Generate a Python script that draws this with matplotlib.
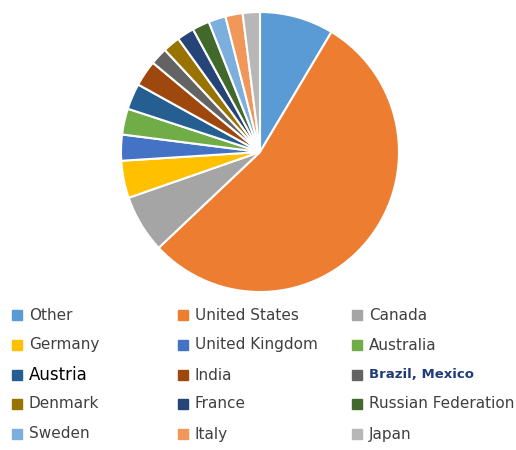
import matplotlib
matplotlib.use("Agg")
import matplotlib.pyplot as plt
from matplotlib.patches import Rectangle

labels = ["Other", "United States", "Canada", "Germany", "United Kingdom", "Australia",
          "Austria", "India", "Brazil, Mexico", "Denmark", "France", "Russian Federation",
          "Sweden", "Italy", "Japan"]
values = [8.6, 54.4, 6.7, 4.3, 3.0, 3.0, 3.0, 3.0, 2.0, 2.0, 2.0, 2.0, 2.0, 2.0, 2.0]
colors = ["#5B9BD5", "#ED7D31", "#A5A5A5", "#FFC000", "#4472C4", "#70AD47",
          "#255E91", "#9E480E", "#636363", "#997300", "#264478", "#43682B",
          "#7CAFDD", "#F1975A", "#B7B7B7"]

W, H = 516, 450
fig = plt.figure(figsize=(W/100, H/100), dpi=100)
ax = fig.add_axes([(260-139)/W, 1-292/H, 278/W, 280/H])
ax.pie(values, colors=colors, startangle=90, counterclock=False,
       wedgeprops=dict(edgecolor="white", linewidth=1.5))
ax.set_aspect("auto")
ax.set_xlim(-1, 1)
ax.set_ylim(-1, 1)

colx = [12, 178, 352]
rowy = [315, 345, 375, 404, 434]
for i, (lab, c) in enumerate(zip(labels, colors)):
    r, k = divmod(i, 3)
    x, y = colx[k], rowy[r]
    fig.patches.append(Rectangle((x/W, 1-(y+5)/H), 10/W, 10/H, color=c,
                                 transform=fig.transFigure, figure=fig))
    kw = dict(fontsize=11, color="#404040")
    if lab == "Austria":
        kw = dict(fontsize=12, color="#000000")
    elif lab == "Brazil, Mexico":
        kw = dict(fontsize=9.5, color="#1F3C78", fontweight="bold")
    fig.text((x+17)/W, 1-y/H, lab, va="center", ha="left", **kw)

fig.savefig("out.png", dpi=100, facecolor="white")
